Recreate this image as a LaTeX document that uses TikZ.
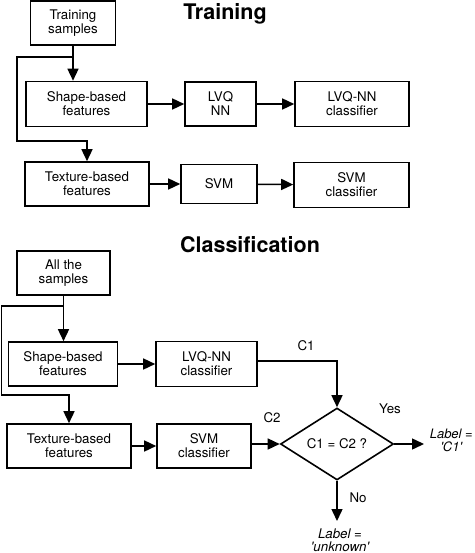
\documentclass[tikz,border=0pt]{standalone}
\usepackage{fontspec}
\setmainfont{TeX Gyre Heros}
\usepackage{tikz}
\usetikzlibrary{shapes.geometric}
\usetikzlibrary{arrows.meta}
\tikzset{box/.style={draw=black, line width=1.6pt, inner sep=0pt, align=center, font=\fontsize{13.3}{14}\selectfont},
  dec/.style={diamond, draw=black, line width=1.6pt, inner sep=0pt, aspect=1.57, minimum width=113pt, minimum height=72pt, font=\fontsize{13.3}{14}\selectfont},
  arr/.style={-{Triangle[length=12pt,width=11pt]}, line width=1.5pt},
  txt/.style={align=center, font=\fontsize{13.3}{14}\selectfont},
  ttl/.style={font=\fontsize{21.5}{24}\bfseries}}

\begin{document}
\begin{tikzpicture}[x=1pt,y=-1pt]
\useasboundingbox (0,0) rectangle (474,553);
% training
\node[ttl] (ttrain) at (225,14) {Training};
\node[box, minimum width=85pt, minimum height=44pt] (tsamp) at (73,23) {Training\\samples};
\node[box, minimum width=121pt, minimum height=45pt] (shapeA) at (86.5,104) {Shape-based\\features};
\node[box, minimum width=71pt, minimum height=44pt] (lvqnn) at (220.5,104) {LVQ\\NN};
\node[box, minimum width=114pt, minimum height=45pt] (lvqA) at (352,104) {LVQ-NN\\classifier};
\node[box, minimum width=124pt, minimum height=44pt] (texA) at (87,184) {Texture-based\\features};
\node[box, minimum width=76pt, minimum height=39pt] (svm) at (219,184) {SVM};
\node[box, minimum width=115pt, minimum height=45pt] (svmA) at (351.5,185) {SVM\\classifier};
\coordinate (brA) at (17,57);
\coordinate (bendA) at (17,141);
\draw[arr] (tsamp.south) -- (tsamp.south |- shapeA.north);
\draw[arr] (tsamp.south |- brA) -- (brA) -- (bendA) -| (texA.north);
\draw[arr] (shapeA) -- (lvqnn);
\draw[arr] (lvqnn) -- (lvqA);
\draw[arr] (texA) -- (svm);
\draw[arr] (svm) -- (svmA);
% classification
\node[ttl] (tclass) at (250,245) {Classification};
\node[box, minimum width=93pt, minimum height=44pt] (asamp) at (63.5,273) {All the\\samples};
\node[box, minimum width=109pt, minimum height=44pt] (shapeB) at (63,364) {Shape-based\\features};
\node[box, minimum width=101pt, minimum height=45pt] (lvqB) at (206.5,364) {LVQ-NN\\classifier};
\node[box, minimum width=124pt, minimum height=44pt] (texB) at (69,446) {Texture-based\\features};
\node[box, minimum width=94pt, minimum height=44pt] (svmB) at (204,446) {SVM\\classifier};
\node[dec] (eq) at (337,444) {C1 = C2 ?};
\coordinate (brB) at (1.5,306);
\coordinate (bendB) at (1.5,395);
\coordinate (yesend) at (424,444);
\coordinate (noend) at (337,521);
\draw[arr] (asamp.south) -- (asamp.south |- shapeB.north);
\draw[arr] (asamp.south |- brB) -- (brB) -- (bendB) -| (texB.north);
\draw[arr] (shapeB) -- (lvqB);
\draw[arr] (lvqB.east |- 0,361) -| (eq.north);
\draw[arr] (texB) -- (svmB);
\draw[arr] (svmB.east |- eq.west) -- (eq.west);
\draw[arr] (eq.east) -- (yesend);
\draw[arr] (eq.south) -- (noend);
\node[txt] (cone) at (306,346) {C1};
\node[txt] (ctwo) at (272,418) {C2};
\node[txt] (yes) at (390,409) {Yes};
\node[txt] (no) at (358,498) {No};
\node[txt, anchor=east, inner sep=0pt, font=\fontsize{13}{13}\itshape] (lblA) at (473,440) {Label =\\\textquotesingle C1\textquotesingle};
\node[txt, font=\fontsize{13.3}{13}\itshape] (lblB) at (340,540) {Label =\\\textquotesingle unknown\textquotesingle};
\end{tikzpicture}
\end{document}
